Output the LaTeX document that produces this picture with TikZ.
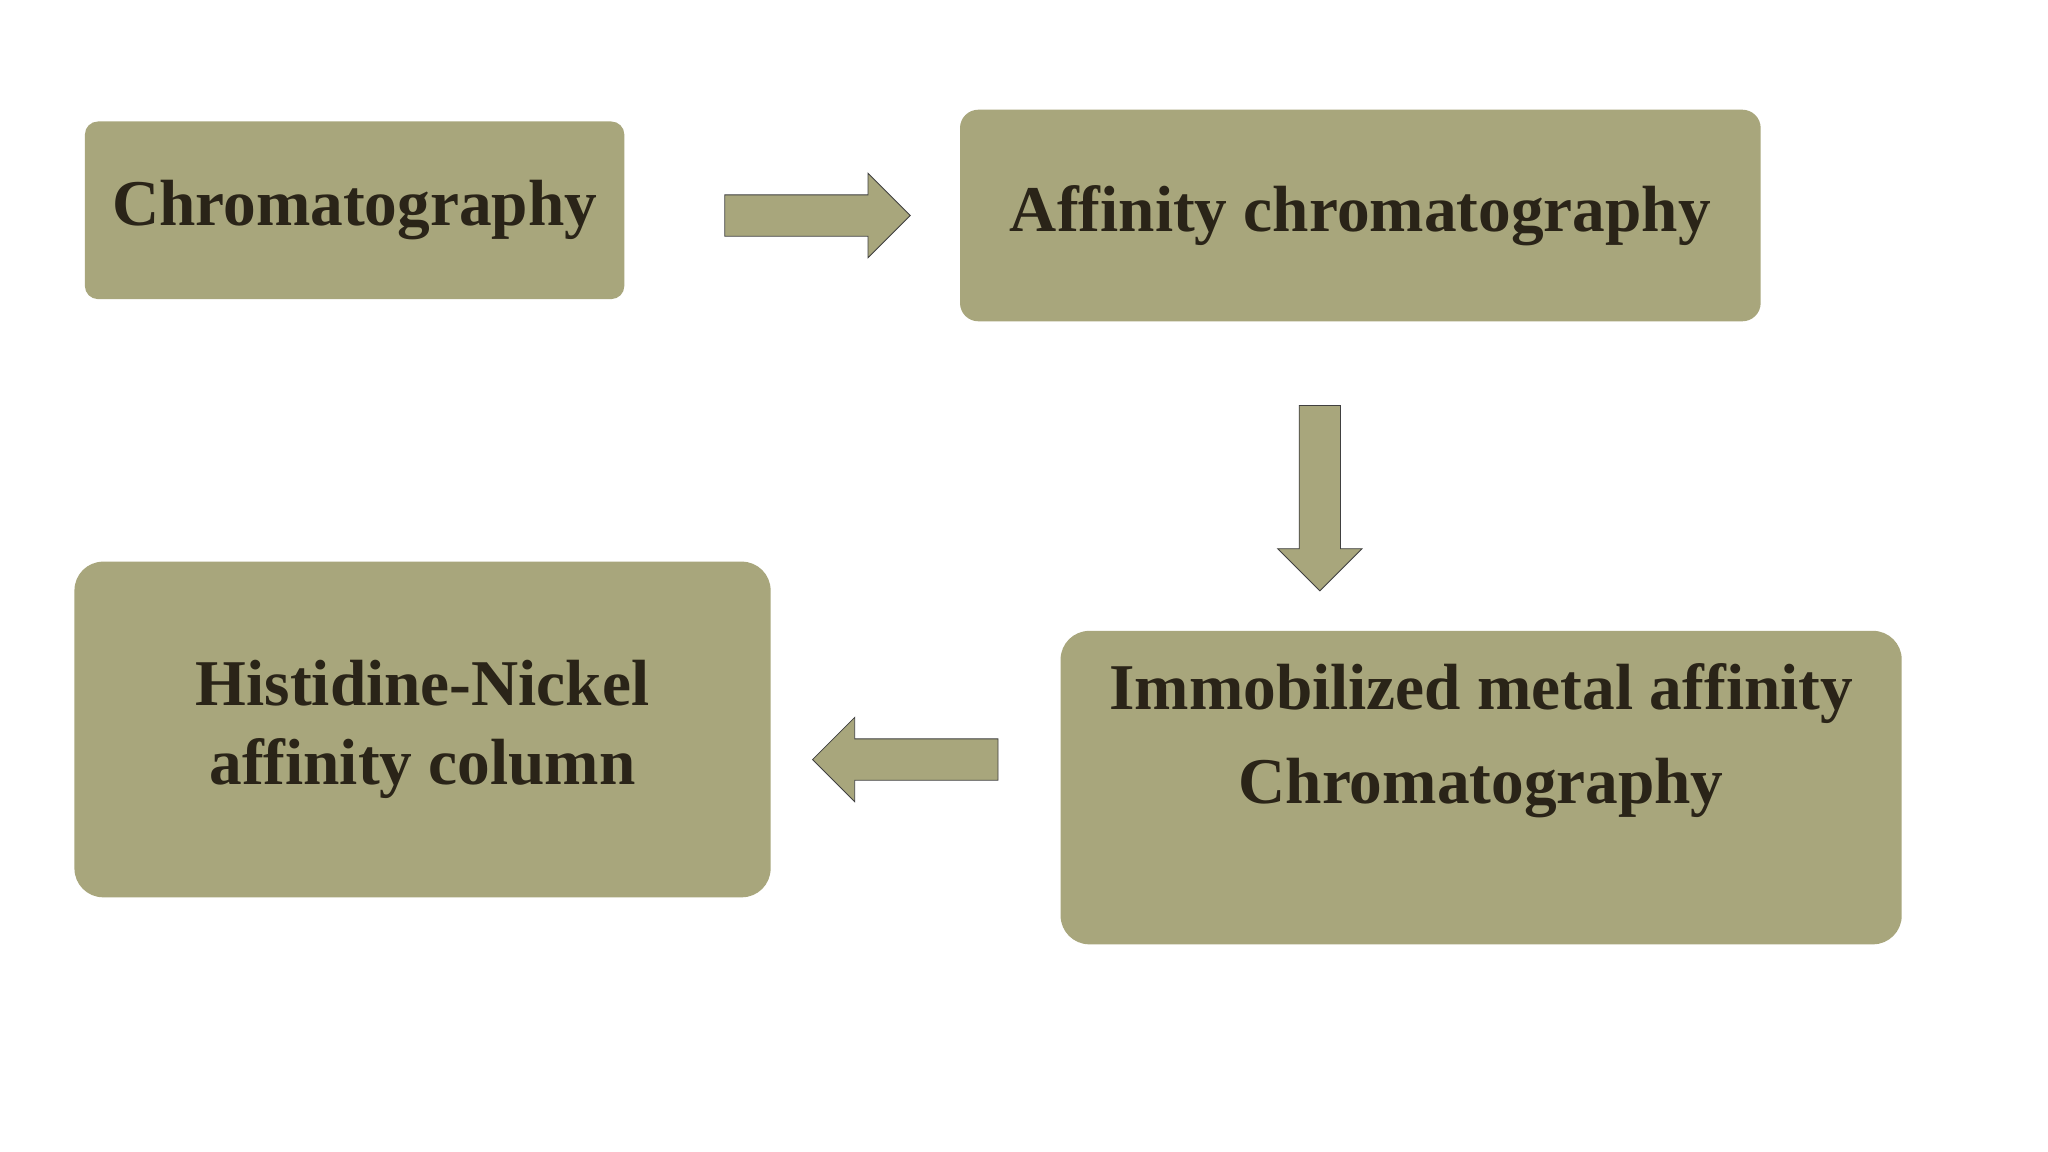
\documentclass[tikz,border=0pt]{standalone}
\usepackage{fontspec}
\setmainfont{Liberation Serif}
\usetikzlibrary{shapes.arrows}
\definecolor{boxc}{HTML}{A8A67C}
\definecolor{txtc}{HTML}{2A2418}
\begin{document}
\begin{tikzpicture}[x=1pt,y=-1pt,
  box/.style={fill=boxc,draw=none,text=txtc,font=\fontsize{50}{60}\selectfont\bfseries,align=center},
  barrow/.style={single arrow,fill=boxc,draw=black!75,line width=0.6pt,inner sep=15.5pt,
    single arrow head extend=16.5pt,minimum height=142pt,single arrow tip angle=90}]
\useasboundingbox (0,0) rectangle (1568,882);
\fill[white] (0,0) rectangle (1568,882);
\node[box,rounded corners=10pt,minimum width=413pt,minimum height=136pt] (a) at (271.5,161) {Chromatography};
\node[box,rounded corners=14pt,minimum width=613pt,minimum height=162pt] (b) at (1041.5,165) {Affinity chromatography};
\node[box,rounded corners=22pt,minimum width=644pt,minimum height=240pt,text height=36pt,text depth=12pt] (c) at (1134,603) {Immobilized metal affinity\\[12pt]Chromatography};
\node[box,rounded corners=22pt,minimum width=533pt,minimum height=257pt] (d) at (323.5,558.5) {Histidine-Nickel\\affinity column};
\node[barrow] (r1) at (618,165) {};
\node[barrow,rotate=-90] (r2) at (1010.5,373.5) {};
\node[barrow,shape border rotate=180] (r3) at (701,581.5) {};
\end{tikzpicture}
\end{document}
